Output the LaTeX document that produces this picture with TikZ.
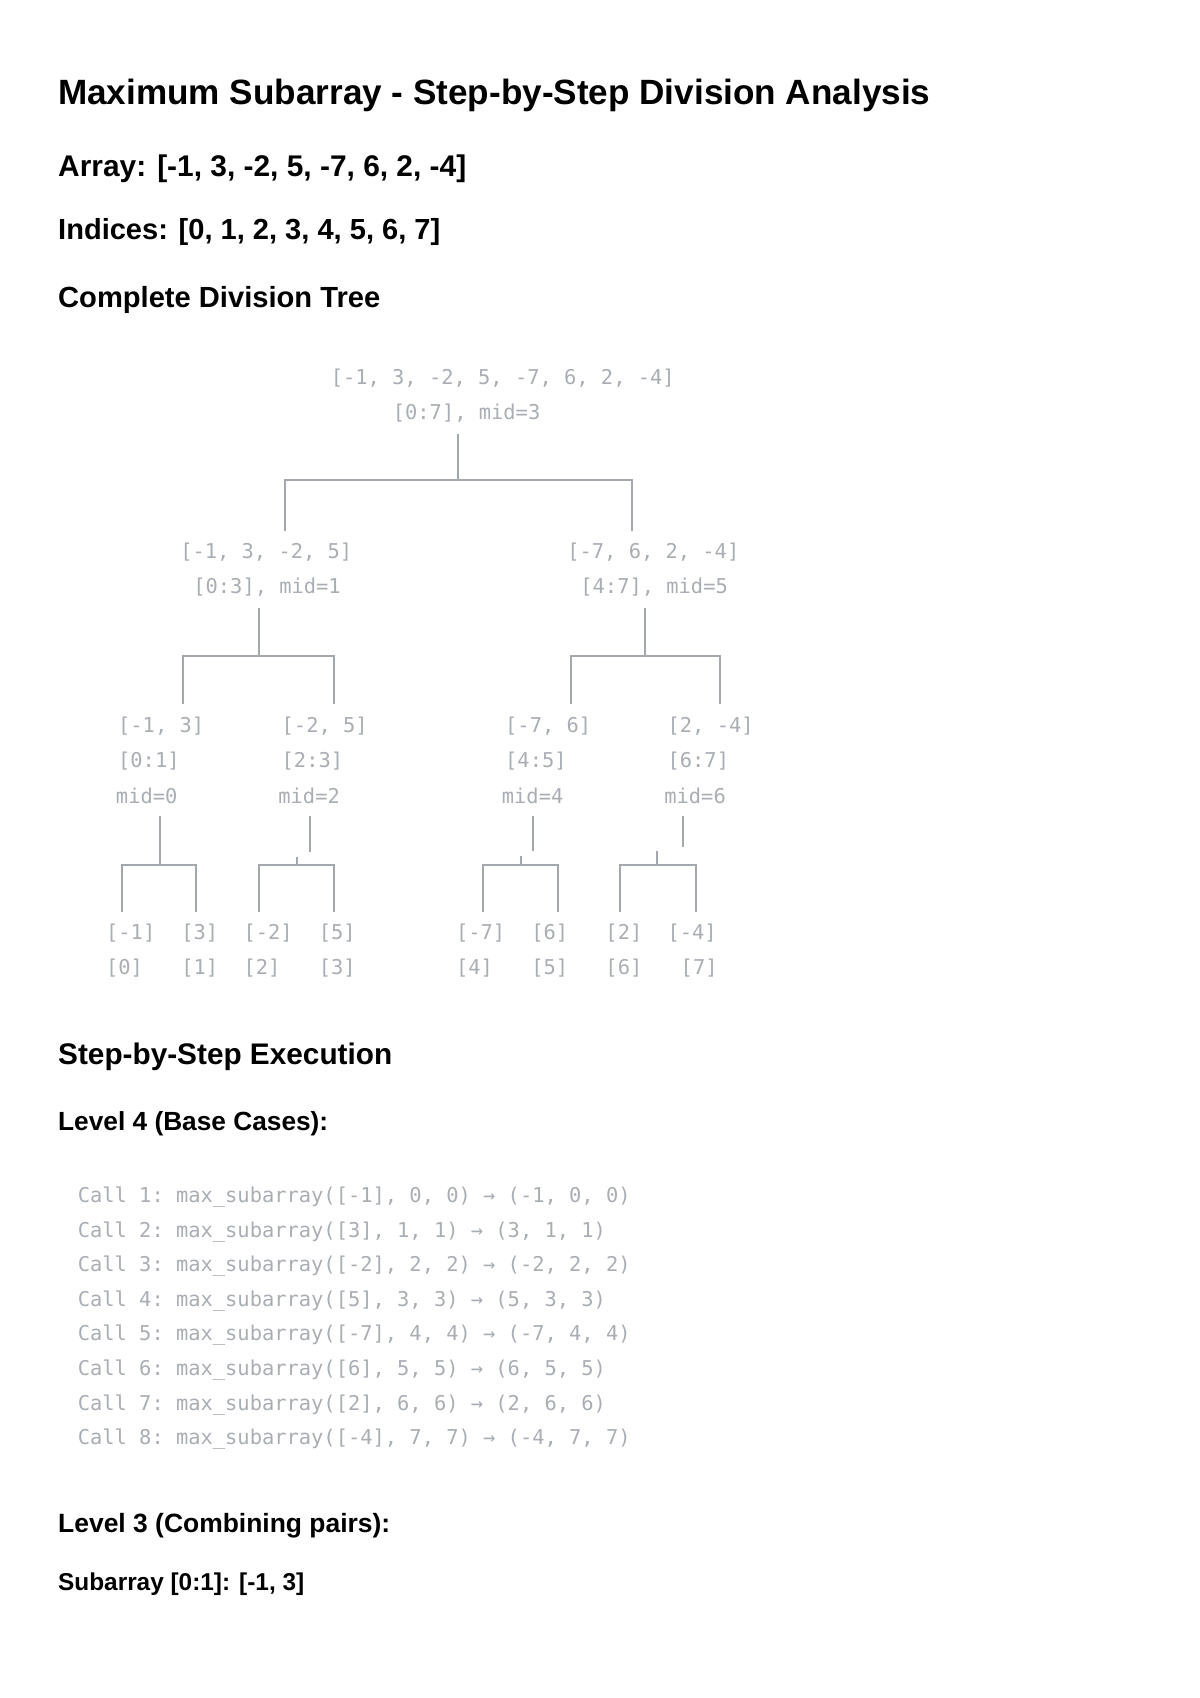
\documentclass[tikz,border=0pt]{standalone}
\usepackage{fontspec}
\setmainfont{Liberation Sans}
\setmonofont{DejaVu Sans Mono}
\definecolor{tx}{HTML}{A9ADB4}
\definecolor{ln}{HTML}{A3A7AE}
\newcommand{\hdtxt}[3]{\resizebox{#1pt}{!}{\fontsize{#2}{#2}\selectfont\bfseries #3}}
\begin{document}
\begin{tikzpicture}[x=0.545pt,y=-0.5455pt,
  mono/.style={anchor=west,inner sep=0pt,text=tx,font=\fontsize{10.2}{12}\ttfamily},
  hd/.style={anchor=west,inner sep=0pt},
  br/.style={draw=ln,line width=1pt}]
\useasboundingbox (0,0) rectangle (1100,1556);
\node[hd] (t) at (53,87) {\hdtxt{436}{18}{Maximum Subarray - Step-by-Step Division Analysis}};
\node[hd] (a) at (53,155) {\hdtxt{204}{14}{Array: [-1, 3, -2, 5, -7, 6, 2, -4]}};
\node[hd] (i) at (53,213) {\hdtxt{191}{14}{Indices: [0, 1, 2, 3, 4, 5, 6, 7]}};
\node[hd] (c) at (53,275) {\hdtxt{161}{14}{Complete Division Tree}};
\node[hd] (s) at (53,968) {\hdtxt{167}{14}{Step-by-Step Execution}};
\node[hd] (l4) at (53,1030) {\hdtxt{135}{12}{Level 4 (Base Cases):}};
\node[hd] (l3) at (53,1398) {\hdtxt{166}{12}{Level 3 (Combining pairs):}};
\node[hd] (sa) at (53,1452) {\hdtxt{123}{10}{Subarray [0:1]: [-1, 3]}};
% tree text
\node[mono] (r1) at (303,347) {[-1, 3, -2, 5, -7, 6, 2, -4]};
\node[mono] (r2) at (360,379) {[0:7], mid=3};
\node[mono] (a1) at (165,506) {[-1, 3, -2, 5]};
\node[mono] (a2) at (177,538) {[0:3], mid=1};
\node[mono] (b1) at (520,506) {[-7, 6, 2, -4]};
\node[mono] (b2) at (532,538) {[4:7], mid=5};
\node[mono] (c1) at (108,665) {[-1, 3]};
\node[mono] (c2) at (108,697) {[0:1]};
\node[mono] (c3) at (106,729) {mid=0};
\node[mono] (d1) at (258,665) {[-2, 5]};
\node[mono] (d2) at (258,697) {[2:3]};
\node[mono] (d3) at (255,729) {mid=2};
\node[mono] (e1) at (463,665) {[-7, 6]};
\node[mono] (e2) at (463,697) {[4:5]};
\node[mono] (e3) at (460,729) {mid=4};
\node[mono] (f1) at (612,665) {[2, -4]};
\node[mono] (f2) at (612,697) {[6:7]};
\node[mono] (f3) at (609,729) {mid=6};
\foreach \n/\x/\a/\b in {g/97/[-1]/[0],h/166/[3]/[1],k/223/[-2]/[2],m/292/[5]/[3],n/418/[-7]/[4],p/487/[6]/[5],q/555/[2]/[6]}{
  \node[mono] (\n1) at (\x,855) {\a};
  \node[mono] (\n2) at (\x,887) {\b};}
\node[mono] (u1) at (612,855) {[-4]};
\node[mono] (u2) at (624,887) {[7]};
% tree lines
\draw[br] (420,398) -- (420,440) (261,487) -- (261,440) -- (580,440) -- (580,487);
\draw[br] (238,557) -- (238,601) (168,645) -- (168,601) -- (306,601) -- (306,645);
\draw[br] (592,557) -- (592,601) (524,645) -- (524,601) -- (660,601) -- (660,645);
\draw[br] (147,748) -- (147,793) (112,836) -- (112,793) -- (180,793) -- (180,836);
\draw[br] (284,748) -- (284,781) (272,785) -- (272,793) (238,836) -- (238,793) -- (306,793) -- (306,836);
\draw[br] (489,748) -- (489,780) (478,784) -- (478,793) (443,836) -- (443,793) -- (512,793) -- (512,836);
\draw[br] (626,748) -- (626,776) (603,780) -- (603,793) (569,836) -- (569,793) -- (638,793) -- (638,836);
% calls
\foreach \i/\t in {1/{max\_subarray([-1], 0, 0) → (-1, 0, 0)},2/{max\_subarray([3], 1, 1) → (3, 1, 1)},3/{max\_subarray([-2], 2, 2) → (-2, 2, 2)},4/{max\_subarray([5], 3, 3) → (5, 3, 3)},5/{max\_subarray([-7], 4, 4) → (-7, 4, 4)},6/{max\_subarray([6], 5, 5) → (6, 5, 5)},7/{max\_subarray([2], 6, 6) → (2, 6, 6)},8/{max\_subarray([-4], 7, 7) → (-4, 7, 7)}}{
  \node[mono] (call\i) at (71,{1097+31.7*(\i-1)}) {Call \i: \t};}
\end{tikzpicture}
\end{document}
